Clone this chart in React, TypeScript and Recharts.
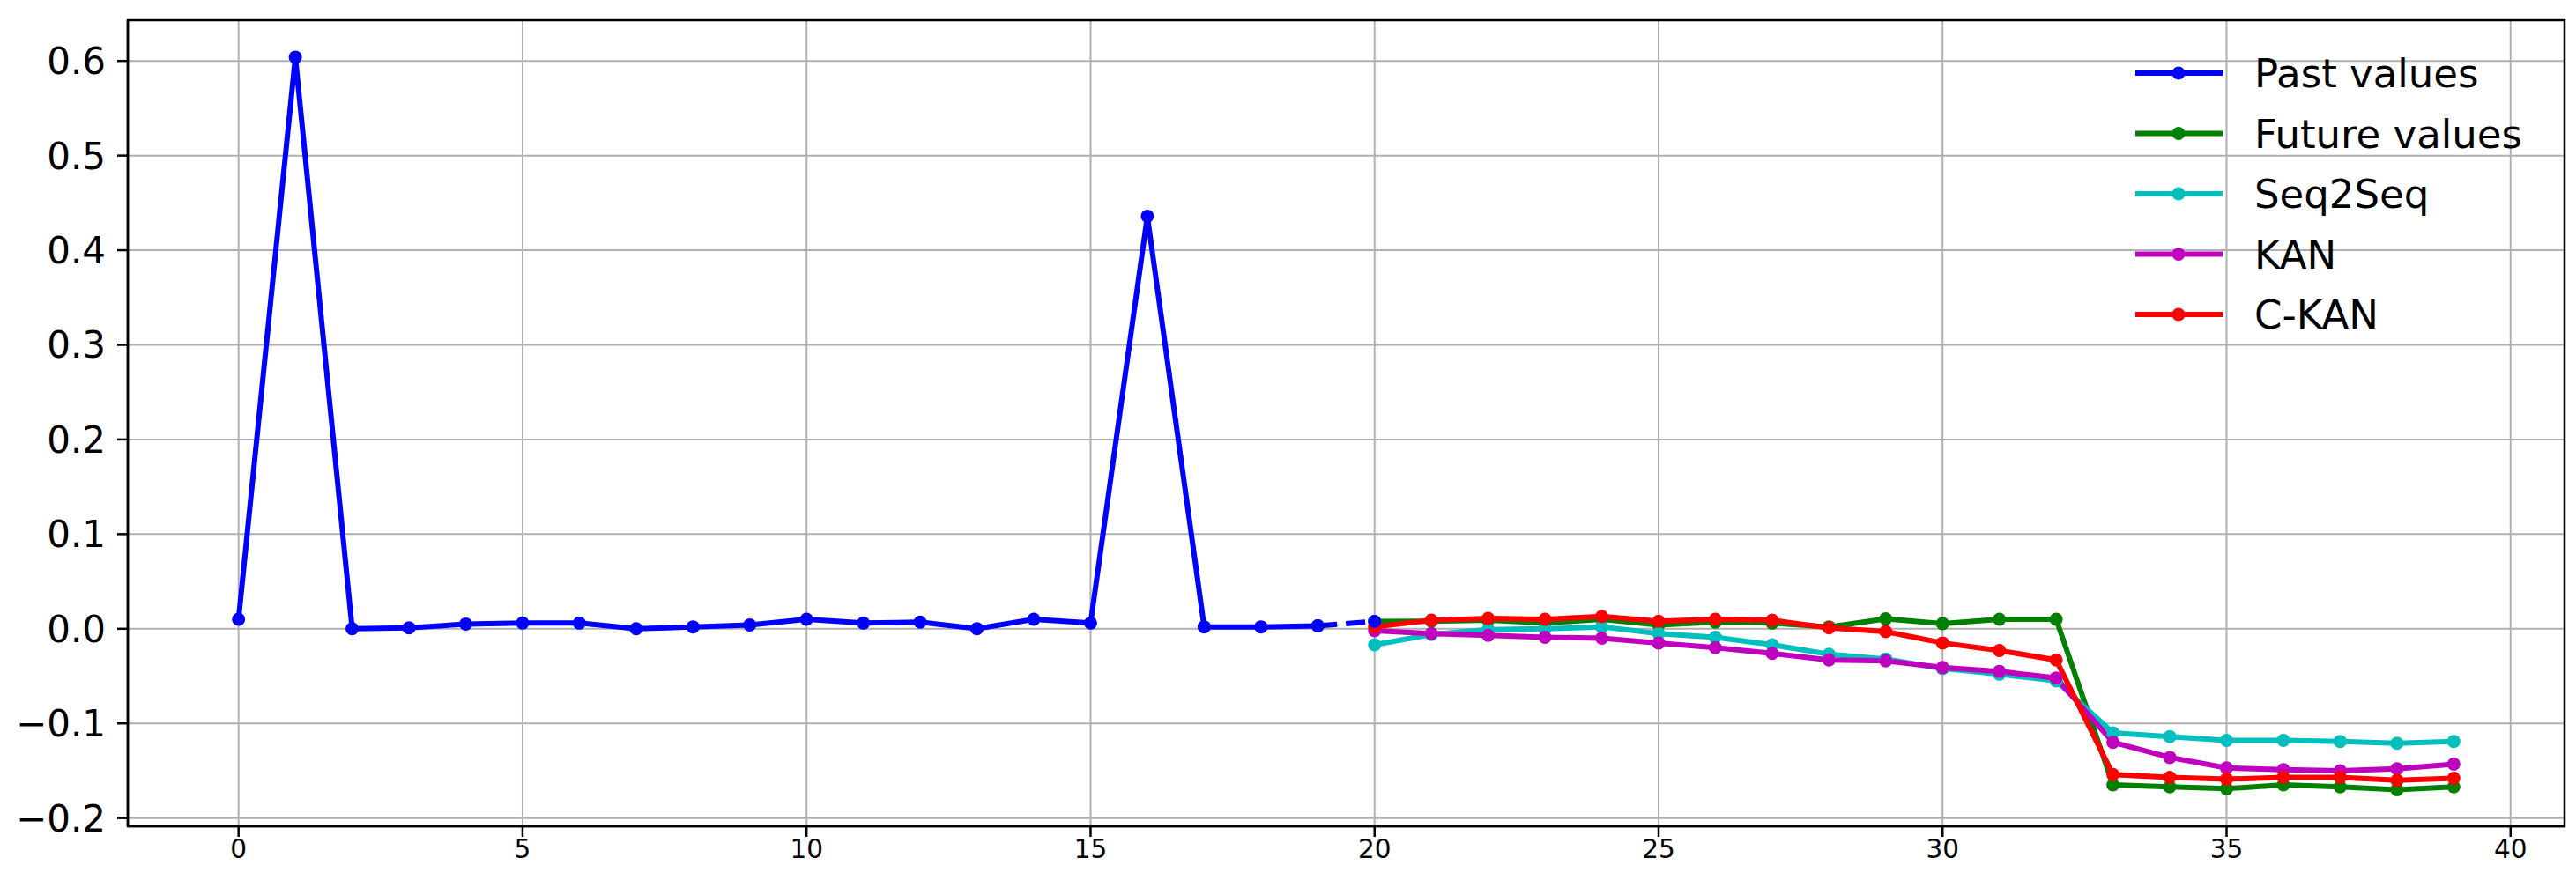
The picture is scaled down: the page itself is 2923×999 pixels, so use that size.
import React from 'react'
import {
  LineChart,
  Line,
  XAxis,
  YAxis,
  CartesianGrid,
  Legend,
  ReferenceArea
} from 'recharts'

// Valeurs
const pastSteps = [0, 1, 2, 3, 4, 5, 6, 7, 8, 9, 10, 11, 12, 13, 14, 15, 16, 17, 18, 19]
const pastValues = [
  0.010, 0.604, 0.000, 0.001, 0.005, 0.006, 0.006, 0.000, 0.002, 0.004,
  0.010, 0.006, 0.007, 0.000, 0.010, 0.006, 0.436, 0.002, 0.002, 0.003
]

const futureSteps = [20, 21, 22, 23, 24, 25, 26, 27, 28, 29, 30, 31, 32, 33, 34, 35, 36, 37, 38, 39]
const futureValues = [
  0.0077, 0.008, 0.009, 0.006, 0.010, 0.004, 0.007, 0.006, 0.002, 0.0105,
  0.0055, 0.010, 0.010, -0.165, -0.167, -0.169, -0.165, -0.167, -0.170, -0.167
]
const seq2seqValues = [
  -0.017, -0.006, -0.001, 0.000, 0.002, -0.005, -0.009, -0.017, -0.027, -0.032,
  -0.042, -0.048, -0.055, -0.110, -0.114, -0.118, -0.118, -0.119, -0.121, -0.119
]
const kanValues = [
  -0.002, -0.005, -0.007, -0.009, -0.010, -0.015, -0.020, -0.026, -0.033, -0.034,
  -0.041, -0.045, -0.052, -0.120, -0.136, -0.147, -0.149, -0.150, -0.148, -0.143
]
const ckanValues = [
  0.002, 0.009, 0.011, 0.010, 0.013, 0.008, 0.010, 0.009, 0.001, -0.003,
  -0.015, -0.023, -0.033, -0.154, -0.157, -0.159, -0.157, -0.157, -0.160, -0.158
]

const xTicks = [0, 5, 10, 15, 20, 25, 30, 35, 40]
const yTicks = [-0.2, -0.1, 0, 0.1, 0.2, 0.3, 0.4, 0.5, 0.6]
const xDomain: [number, number] = [-1.95, 40.95]
const yDomain: [number, number] = [-0.2087, 0.643]

const seriesList = [
  { key: 'past', name: 'Past values', color: '#0000ff' },
  { key: 'future', name: 'Future values', color: '#008000' },
  { key: 'seq2seq', name: 'Seq2Seq', color: '#00bfbf' },
  { key: 'kan', name: 'KAN', color: '#bf00bf' },
  { key: 'ckan', name: 'C-KAN', color: '#ff0000' }
]

interface Row {
  x: number
  past: number | null
  bridge: number | null
  future: number | null
  seq2seq: number | null
  kan: number | null
  ckan: number | null
}

const FONT = '"DejaVu Sans", sans-serif'

function buildRows(): Row[] {
  const rows: Row[] = []
  pastSteps.forEach((step, i) => {
    rows.push({
      x: step,
      past: pastValues[i],
      bridge: i === pastSteps.length - 1 ? pastValues[i] : null,
      future: null,
      seq2seq: null,
      kan: null,
      ckan: null
    })
  })
  futureSteps.forEach((step, i) => {
    rows.push({
      x: step,
      past: null,
      bridge: i === 0 ? futureValues[i] : null,
      future: futureValues[i],
      seq2seq: seq2seqValues[i],
      kan: kanValues[i],
      ckan: ckanValues[i]
    })
  })
  return rows
}

const formatY = (v: number): string => {
  const s = Math.abs(v).toFixed(1)
  return v < -1e-9 ? `\u2212${s}` : s
}

// Légende façon matplotlib (sans cadre)
const renderLegend = (): React.JSX.Element => {
  const rowGap = 68.5
  return (
    <svg width={500} height={360} style={{ display: 'block' }}>
      {seriesList.map((s, i) => {
        const cy = 43 + i * rowGap
        return (
          <g key={s.key}>
            <line x1={18} x2={117} y1={cy} y2={cy} stroke={s.color} strokeWidth={6} />
            <circle cx={67} cy={cy} r={7.5} fill={s.color} />
            <text x={153} y={cy + 16} fontSize={45} fontFamily={FONT} fill="#000">
              {s.name}
            </text>
          </g>
        )
      })}
    </svg>
  )
}

export default function App(): React.JSX.Element {
  const data = React.useMemo(buildRows, [])
  const axisStyle = { stroke: '#000', strokeWidth: 2.5 }

  return (
    <div style={{ position: 'absolute', left: 0, top: 0, width: 2923, height: 999, background: '#fff' }}>
      <LineChart
        width={2923}
        height={999}
        data={data}
        margin={{ top: 23, right: 13, bottom: 0, left: 0 }}
      >
        <CartesianGrid stroke="#b0b0b0" strokeWidth={2} />

        {/* Cadre complet du graphique (spines) */}
        <ReferenceArea
          x1={xDomain[0]}
          x2={xDomain[1]}
          y1={yDomain[0]}
          y2={yDomain[1]}
          fill="none"
          fillOpacity={0}
          stroke="#000"
          strokeWidth={2.5}
          strokeOpacity={1}
          ifOverflow="visible"
        />

        <XAxis
          dataKey="x"
          type="number"
          domain={xDomain}
          ticks={xTicks}
          allowDataOverflow
          height={61}
          axisLine={axisStyle}
          tickLine={axisStyle}
          tickSize={12}
          tickMargin={3}
          tick={{ fontSize: 29.5, fontFamily: FONT, fill: '#000' }}
        />
        <YAxis
          type="number"
          domain={yDomain}
          ticks={yTicks}
          allowDataOverflow
          width={145}
          axisLine={axisStyle}
          tickLine={axisStyle}
          tickSize={12}
          tickMargin={13}
          tickFormatter={formatY}
          tick={{ fontSize: 42, fontFamily: FONT, fill: '#000' }}
        />

        <Legend
          layout="horizontal"
          verticalAlign="middle"
          align="center"
          content={renderLegend}
          wrapperStyle={{ position: 'absolute', left: 2405, top: 40, width: 500, height: 360 }}
        />

        {seriesList.map((s) => (
          <Line
            key={s.key}
            type="linear"
            dataKey={s.key}
            name={s.name}
            stroke={s.color}
            strokeWidth={6}
            dot={{ r: 7.5, fill: s.color, stroke: 'none' }}
            activeDot={false}
            connectNulls={false}
            isAnimationActive={false}
          />
        ))}

        {/* Raccord pointillé entre passé et futur */}
        <Line
          type="linear"
          dataKey="bridge"
          stroke="#0000ff"
          strokeWidth={6}
          strokeDasharray="22 10"
          dot={{ r: 7.5, fill: '#0000ff', stroke: 'none' }}
          activeDot={false}
          legendType="none"
          connectNulls
          isAnimationActive={false}
        />
      </LineChart>
    </div>
  )
}
